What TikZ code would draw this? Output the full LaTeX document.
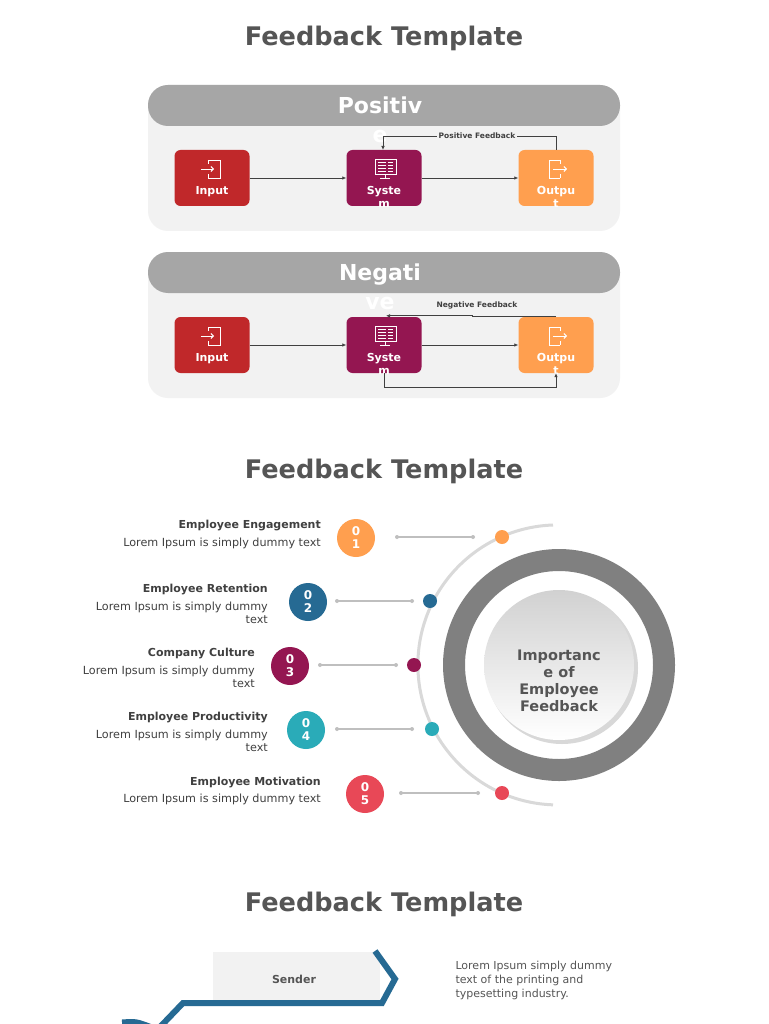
\documentclass[tikz,border=0pt]{standalone}
\usepackage{fontspec}
\setmainfont{DejaVu Sans}
\usetikzlibrary{arrows.meta,shadows}
\definecolor{tgray}{HTML}{555555}
\definecolor{hdr}{HTML}{A6A6A6}
\definecolor{pan}{HTML}{F2F2F2}
\definecolor{cin}{HTML}{C0282A}
\definecolor{csy}{HTML}{941651}
\definecolor{cout}{HTML}{FF9F4F}
\definecolor{cblue}{HTML}{266A93}
\definecolor{cteal}{HTML}{2AABB8}
\definecolor{cred}{HTML}{E84857}
\definecolor{ln}{HTML}{404040}
\tikzset{
 title/.style={font=\bfseries\fontsize{25.6}{30}\selectfont,text=tgray},
 hdrtxt/.style={font=\bfseries\fontsize{22}{29}\selectfont,text=white,align=center},
 blk/.style={rounded corners=6,minimum width=75,minimum height=56},
 blab/.style={font=\bfseries\fontsize{11}{13}\selectfont,text=white,align=center},
 arr/.style={draw=ln,line width=0.7,-{Latex[length=4,width=3.5]}},
 fbl/.style={font=\bfseries\fontsize{7.5}{9}\selectfont,text=ln,fill=pan,inner sep=2},
 num/.style={circle,minimum size=38,inner sep=0,font=\bfseries\fontsize{12}{13}\selectfont,text=white,align=center},
 ttl/.style={font=\bfseries\fontsize{11}{13}\selectfont,text=ln,anchor=east},
 lor/.style={font=\fontsize{11.2}{13}\selectfont,text=ln,align=right,anchor=north east},
 dot/.style={circle,minimum size=14,inner sep=0},
 cl/.style={draw=black!25,line width=1.2},
 ic/.style={draw=white,line width=0.9}
}
\begin{document}
\begin{tikzpicture}[x=1pt,y=-1pt]
\useasboundingbox (0,0) rectangle (768,1024);
\fill[white] (0,0) rectangle (768,1024);
% ===== section 1
\node[title] (t1) at (384,38) {Feedback Template};
\foreach \yo/\nm/\lbl in {0/p/Positiv\\e, 167/n/Negati\\ve}{
 \begin{scope}[yshift=-\yo]
 \fill[pan,rounded corners=20] (148,85) rectangle (620,231);
 \fill[hdr,rounded corners=20] (148,85) rectangle (620,126);
 \node[hdrtxt,anchor=north] (h\nm) at (380,93) {\lbl};
 \node[blk,fill=cin] (in\nm) at (212,178) {};
 \node[blk,fill=csy] (sy\nm) at (384,178) {};
 \node[blk,fill=cout] (ou\nm) at (556,178) {};
 \node[blab,anchor=north] at (212,183) {Input};
 \node[blab,anchor=north] at (384,183) {Syste\\m};
 \node[blab,anchor=north] at (556,183) {Outpu\\t};
 % icons
 \draw[ic] (208,160) -- (220,160) -- (220,178) -- (208,178) (208,160)--(208,164) (208,174)--(208,178);
 \draw[ic,-{Straight Barb[length=2.5]}] (201,169) -- (214,169);
 \draw[ic] (375,159) rectangle (396,174) (385,174)--(385,178) (380,178)--(390,178);
 \foreach \k in {0,1,2,3}{\draw[white,line width=0.5] (378,162+3*\k) -- (386,162+3*\k) (388,162+3*\k)--(393,162+3*\k);}
 \draw[ic] (560,160) -- (549,160) -- (549,178) -- (560,178) (560,160)--(560,164) (560,174)--(560,178);
 \draw[ic,-{Straight Barb[length=2.5]}] (553,169) -- (567,169);
 \draw[arr] (in\nm.east) -- (sy\nm.west);
 \draw[arr] (sy\nm.east) -- (ou\nm.west);
 \end{scope}
}
\draw[arr] (oup.north) -- (556,136) -- (383,136) -- (383,150);
\node[fbl] (pf) at (477,136) {Positive Feedback};
\node[fbl,fill=none] (nf) at (477,305) {Negative Feedback};
\draw[arr] (oun.north) -- ++(-84,0) -- ++(0,-1) -- ++(-86,0);
\draw[arr] (syn.south) -- ++(0,14) -- ++(172,0) -- (oun.south);
% ===== section 2
\node[title] (t2) at (384,471) {Feedback Template};
\draw[black!15,line width=3] (553,525) arc[start angle=268,end angle=92,radius=140];
\fill[black!50,even odd rule] (559,665) circle[radius=116] (559,665) circle[radius=94];
\fill[black!30,opacity=0.5] (562,668) circle[radius=76];
\shade[top color=black!18,bottom color=white] (559,665) circle[radius=75];
\node[font=\bfseries\fontsize{14.5}{17}\selectfont,text=tgray,align=center] (ctr) at (559,681) {Importanc\\e of\\Employee\\Feedback};
\foreach \i/\dx/\dy/\la/\lb/\nx/\rx/\col/\tx/\ty in {
 1/502/537/397/473/356/321/cout/Employee Engagement/Lorem Ipsum is simply dummy text,
 2/430/601/337/412/308/268/cblue/Employee Retention/Lorem Ipsum is simply dummy\\text,
 3/414/665/320/396/290/255/csy/Company Culture/Lorem Ipsum is simply dummy\\text,
 4/432/729/337/412/306/268/cteal/Employee Productivity/Lorem Ipsum is simply dummy\\text,
 5/502/793/401/478/365/321/cred/Employee Motivation/Lorem Ipsum is simply dummy text}{
 \node[dot,fill=\col] (d\i) at (\dx,\dy) {};
 \coordinate (a\i) at (\la,\dy); \coordinate (b\i) at (\lb,\dy);
 \draw[cl] (a\i) -- (b\i);
 \fill[black!25] (a\i) circle[radius=2] (b\i) circle[radius=2];
 \node[num,fill=\col] (n\i) at (\nx,\dy+1) {0\\\i};
 \node[ttl,inner sep=0] (tt\i) at (\rx,\dy-11) {\tx};
 \node[lor,inner sep=0] (lo\i) at (\rx,\dy+1) {\ty};
}
% ===== section 3
\node[title] (t3) at (384,904) {Feedback Template};
\fill[pan] (213,952) rectangle (380,1000);
\node[font=\bfseries\fontsize{11}{13}\selectfont,text=tgray] (snd) at (294,979) {Sender};
\draw[cblue,line width=6,line join=miter] (375,951) -- (395,979) -- (382,1003) -- (183,1003) -- (160,1027);
\draw[cblue,line width=5] (122,1022) .. controls (136,1021) .. (152,1027);
\node[font=\fontsize{11}{14}\selectfont,text=tgray,align=left,anchor=north west] (desc) at (452,958) {Lorem Ipsum simply dummy\\text of the printing and\\typesetting industry.};
\end{tikzpicture}
\end{document}
